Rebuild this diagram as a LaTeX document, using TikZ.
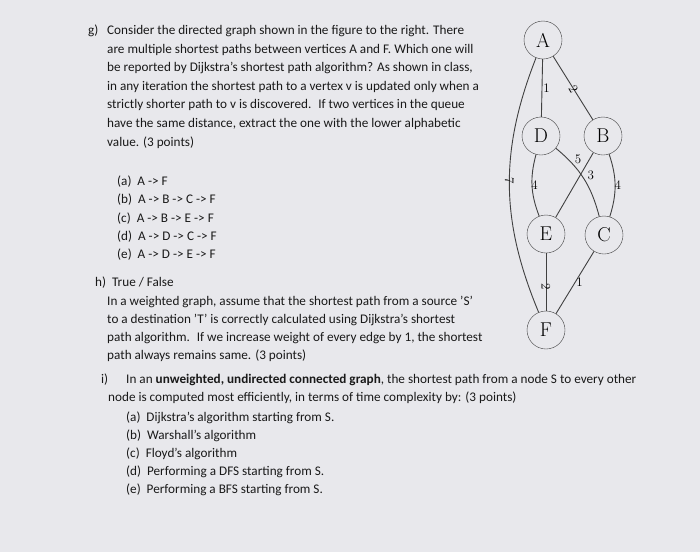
\documentclass[tikz,border=0pt]{standalone}
\usepackage{fontspec}
\setmainfont{Carlito}
\newfontfamily\lmfont{Latin Modern Roman}
\begin{document}
\begin{tikzpicture}[x=1pt,y=-1pt,
  txt/.style={anchor=base west,inner sep=0,font=\fontsize{13.2}{15}\selectfont,text=black!90},
  vtx/.style={circle,draw=black!75,minimum size=38pt,inner sep=0,font=\lmfont\fontsize{20}{20}\selectfont},
  lbl/.style={font=\lmfont\fontsize{13}{13}\selectfont,inner sep=1pt},
  edge/.style={draw=black!75,line width=0.9pt}]
\fill[fill={rgb,255:red,232;green,232;blue,236}] (0,0) rectangle (700,552);
\useasboundingbox (0,0) rectangle (700,552);
\node[txt] (g) at (88,34) {g)};
\node[txt] (g1) at (107,34) {Consider the directed graph shown in the figure to the right. There};
\node[txt] (g2) at (107,53) {are multiple shortest paths between vertices A and F. Which one will};
\node[txt] (g3) at (107,71) {be reported by Dijkstra's shortest path algorithm? As shown in class,};
\node[txt] (g4) at (107,90) {in any iteration the shortest path to a vertex v is updated only when a};
\node[txt] (g5) at (107,108) {strictly shorter path to v is discovered. \ If two vertices in the queue};
\node[txt] (g6) at (107,127) {have the same distance, extract the one with the lower alphabetic};
\node[txt] (g7) at (107,146) {value. (3 points)};
\node[txt] (ga) at (117,185) {(a) \ A -> F};
\node[txt] (gb) at (117,203) {(b) \ A -> B -> C -> F};
\node[txt] (gc) at (117,222) {(c) \ A -> B -> E -> F};
\node[txt] (gd) at (117,240) {(d) \ A -> D -> C -> F};
\node[txt] (ge) at (117,258) {(e) \ A -> D -> E -> F};
\node[txt] (h) at (95,286) {h) \ True / False};
\node[txt] (h1) at (107,305) {In a weighted graph, assume that the shortest path from a source 'S'};
\node[txt] (h2) at (107,323) {to a destination 'T' is correctly calculated using Dijkstra's shortest};
\node[txt] (h3) at (107,341) {path algorithm. \ If we increase weight of every edge by 1, the shortest};
\node[txt] (h4) at (107,359) {path always remains same. (3 points)};
\node[txt] (i) at (101,383) {i)};
\node[txt] (i1) at (126,383) {In an \textbf{unweighted, undirected connected graph}, the shortest path from a node S to every other};
\node[txt] (i2) at (108,401) {node is computed most efficiently, in terms of time complexity by: (3 points)};
\node[txt] (ia) at (126,421) {(a) \ Dijkstra's algorithm starting from S.};
\node[txt] (ib) at (126,439) {(b) \ Warshall's algorithm};
\node[txt] (ic) at (126,457) {(c) \ Floyd's algorithm};
\node[txt] (id) at (126,475) {(d) \ Performing a DFS starting from S.};
\node[txt] (ie) at (126,493) {(e) \ Performing a BFS starting from S.};
\node[vtx] (A) at (543,40) {A};
\node[vtx] (D) at (541,136) {D};
\node[vtx] (B) at (603,136) {B};
\node[vtx] (E) at (546,234) {E};
\node[vtx] (C) at (604,235) {C};
\node[vtx] (F) at (546,330) {F};
\draw[edge] (A) -- node[lbl,right,pos=0.5] {1} (D);
\draw[edge] (A) -- node[lbl,right,pos=0.45,rotate=-60] {2} (B);
\draw[edge] (D) to[bend right=18] node[lbl,pos=0.5,right=-2pt] {4} (E);
\draw[edge] (B) -- node[lbl,pos=0.35,right=6pt] {3} (E);
\draw[edge] (D) to[bend left=18] node[lbl,pos=0.28,above right=0pt] {5} (C);
\draw[edge] (B) to[bend left=18] node[lbl,pos=0.5,right=-2pt] {4} (C);
\draw[edge] (E) -- node[lbl,pos=0.5,right,rotate=-90] {2} (F);
\draw[edge] (C) -- node[lbl,pos=0.5,right] {1} (F);
\draw[edge] (A) to[bend right=22] node[lbl,pos=0.5,left,rotate=-90] {7} (F);
\end{tikzpicture}
\end{document}
